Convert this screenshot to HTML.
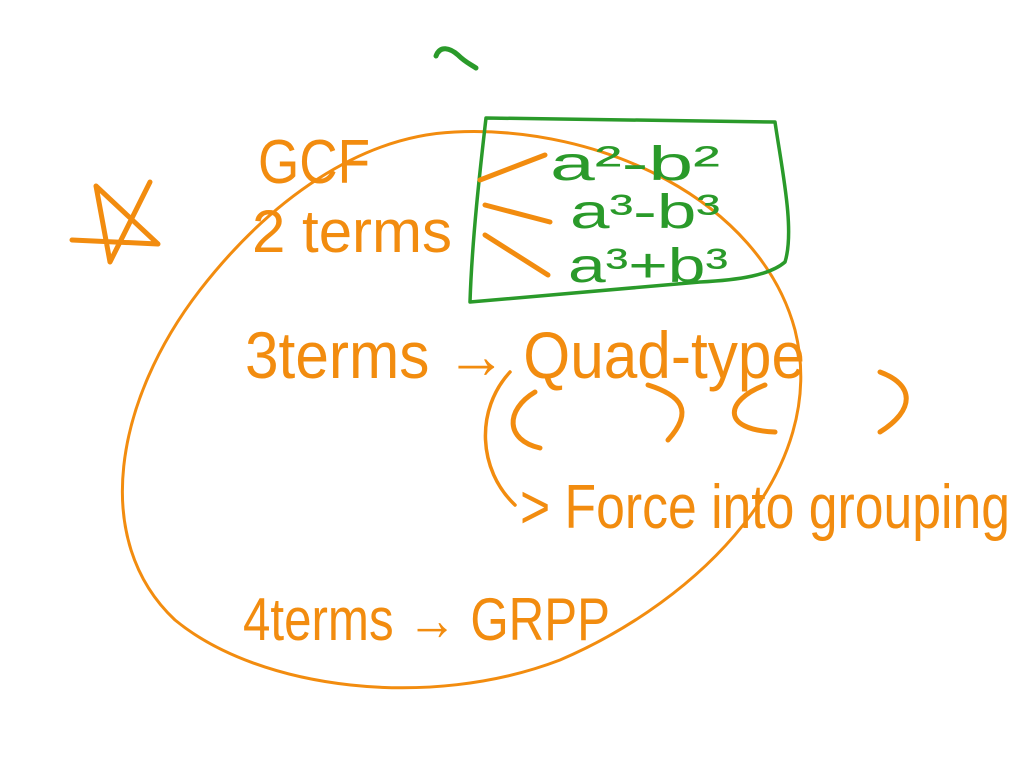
<!DOCTYPE html>
<html><head><meta charset="utf-8"><style>
html,body{margin:0;padding:0;background:#fff;}
svg{display:block}
text{font-family:"Liberation Sans",sans-serif;}
</style></head><body>
<svg width="1024" height="768" viewBox="0 0 1024 768" xmlns="http://www.w3.org/2000/svg">
<g fill="none" stroke-linecap="round" stroke-linejoin="round">
<!-- big orange loop -->
<path d="M455 132 C600 125 760 200 795 330 C830 470 700 600 560 660 C430 710 260 690 175 620 C90 540 115 400 200 290 C270 200 360 136 455 132 Z" stroke="#f28c0f" stroke-width="3"/>
<!-- green box -->
<path d="M486 118 L775 122 C782 170 795 230 785 262 C770 275 740 280 700 282 L470 302 C472 240 480 170 486 118 Z" stroke="#2a9a2a" stroke-width="3.5"/>
<!-- green squiggle top -->
<path d="M436 56 C440 45 450 48 458 55 C465 62 470 64 476 68" stroke="#2a9a2a" stroke-width="5"/>
<!-- connector lines -->
<path d="M480 180 L545 155 M485 205 L550 222 M485 235 L548 275" stroke="#f28c0f" stroke-width="5"/>
<!-- star -->
<path d="M96 186 L110 262 L150 182 M72 240 L158 244 L96 186" stroke="#f28c0f" stroke-width="5"/>
<!-- parentheses -->
<path d="M535 392 C505 410 505 440 540 448" stroke="#f28c0f" stroke-width="5"/>
<path d="M648 385 C680 395 695 410 668 440" stroke="#f28c0f" stroke-width="5"/>
<path d="M765 385 C725 400 720 430 775 432" stroke="#f28c0f" stroke-width="5"/>
<path d="M880 372 C915 385 915 410 880 432" stroke="#f28c0f" stroke-width="5"/>
<path d="M510 372 C475 410 478 470 515 505" stroke="#f28c0f" stroke-width="3.5"/>
</g>
<g fill="#f28c0f">
<text x="258" y="183" font-size="62" textLength="112" lengthAdjust="spacingAndGlyphs">GCF</text>
<text x="252" y="252" font-size="60" textLength="200" lengthAdjust="spacingAndGlyphs">2 terms</text>
<text x="245" y="378" font-size="66" textLength="560" lengthAdjust="spacingAndGlyphs">3terms → Quad-type</text>
<text x="520" y="528" font-size="62" textLength="490" lengthAdjust="spacingAndGlyphs">&gt; Force into grouping</text>
<text x="243" y="640" font-size="60" textLength="367" lengthAdjust="spacingAndGlyphs">4terms → GRPP</text>
</g>
<g fill="#2a9a2a">
<text x="550" y="180" font-size="48" textLength="170" lengthAdjust="spacingAndGlyphs">a²-b²</text>
<text x="570" y="228" font-size="48" textLength="150" lengthAdjust="spacingAndGlyphs">a³-b³</text>
<text x="568" y="282" font-size="48" textLength="160" lengthAdjust="spacingAndGlyphs">a³+b³</text>
</g>
</svg>
</body></html>
